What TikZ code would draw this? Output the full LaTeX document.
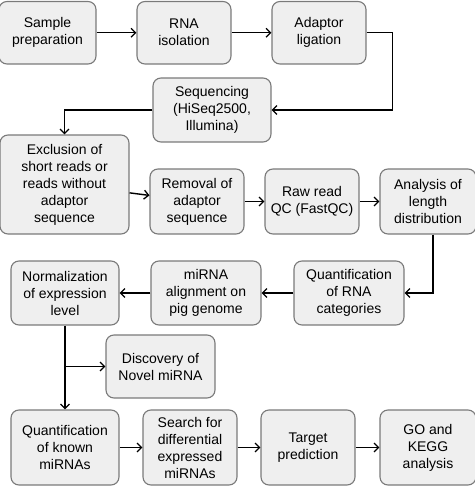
\documentclass[tikz,border=0pt]{standalone}
\usepackage{fontspec}
\setmainfont{Liberation Sans}
\usetikzlibrary{arrows.meta}
\definecolor{boxfill}{HTML}{EFEFEF}
\definecolor{boxline}{HTML}{7A7A7A}
\tikzset{
  flowbox/.style={draw=boxline, line width=1.1pt, fill=boxfill, rounded corners=8pt,
    align=center, inner sep=0pt, font=\fontsize{14}{17}\selectfont},
  arr/.style={draw=black, line width=1.4pt, -{Straight Barb[length=4.5pt,width=9pt,line width=1.3pt]}},
}
\newcommand{\bx}[6]{% name, x1, y1, x2, y2, text
  \node[flowbox, minimum width={#4-#2}, minimum height={#5-#3}] (#1) at ({(#2+#4)/2},{-(#3+#5)/2}) {#6};}
\begin{document}
\begin{tikzpicture}[x=1pt,y=1pt]
\useasboundingbox (0,0) rectangle (474,-486);
\bx{s1}{-1}{1.5}{96}{64}{Sample\\preparation}
\bx{s2}{137}{1.5}{231}{64}{RNA\\isolation}
\bx{s3}{272}{1.5}{366}{64}{Adaptor\\ligation}
\bx{s4}{153}{78}{271}{142}{Sequencing\\(HiSeq2500,\\Illumina)}
\bx{s5}{0}{135}{129}{234}{Exclusion of\\short reads or\\reads without\\adaptor\\sequence}
\bx{s6}{150}{169}{244}{234}{Removal of\\adaptor\\sequence}
\bx{s7}{265}{169}{359}{234}{Raw read\\QC (FastQC)}
\bx{s8}{380}{169}{476}{234}{Analysis of\\length\\distribution}
\bx{s9}{294}{261}{404}{325}{Quantification\\of RNA\\categories}
\bx{s10}{151}{261}{261}{325}{miRNA\\alignment on\\pig genome}
\bx{s11}{11}{261}{119}{325}{Normalization\\of expression\\level}
\bx{s12}{106}{335}{215}{398}{Discovery of\\Novel miRNA}
\bx{s13}{11}{410}{119}{485}{Quantification\\of known\\miRNAs}
\bx{s14}{143}{410}{237}{485}{Search for\\differential\\expressed\\miRNAs}
\bx{s15}{261}{410}{355}{485}{Target\\prediction}
\bx{s16}{380}{410}{476}{485}{GO and\\KEGG\\analysis}
\draw[arr] (s1) -- (s2);
\draw[arr] (s2) -- (s3);
\draw[arr] (s3.east) -- ++(26,0) |- (s4.east);
\draw[arr] (s4.west) -| (s5.north);
\draw[arr] (s5) -- (s6);
\draw[arr] (s6) -- (s7);
\draw[arr] (s7) -- (s8);
\coordinate (c8) at ([xshift=5pt]s8.south);
\draw[arr] (c8) |- (s9.east);
\draw[arr] (s9) -- (s10);
\draw[arr] (s10) -- (s11);
\draw[arr] (s11.south) -- (s13.north);
\coordinate (br) at (s11.south |- s12.west);
\draw[arr] (br) -- (s12.west);
\draw[arr] (s13) -- (s14);
\draw[arr] (s14) -- (s15);
\draw[arr] (s15) -- (s16);
\end{tikzpicture}
\end{document}
